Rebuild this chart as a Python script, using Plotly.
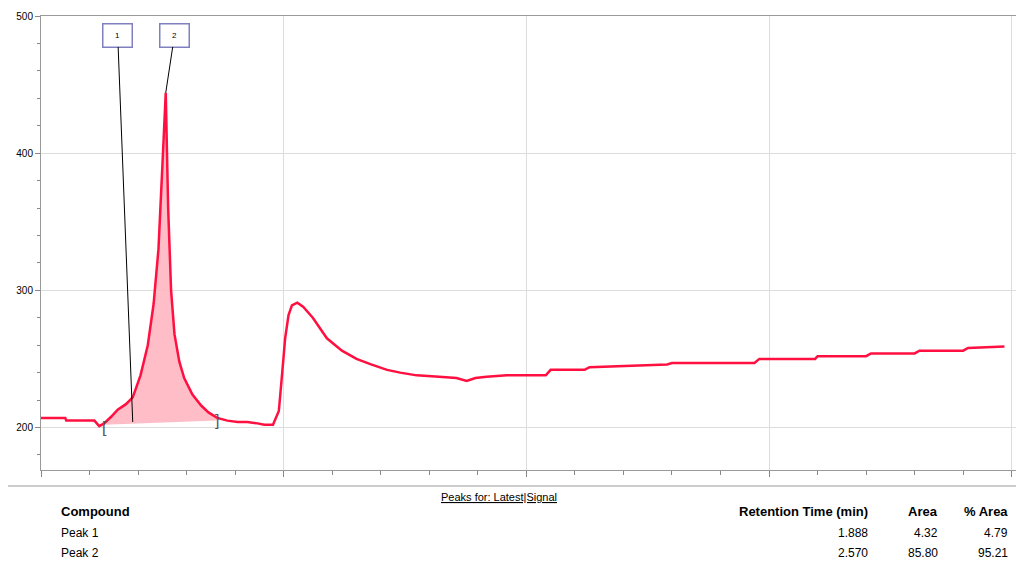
import plotly.graph_objects as go

# chromatogram signal (time in min, signal)
tiempo = [0.0, 0.5, 0.52, 1.1, 1.2, 1.3, 1.45, 1.58, 1.75, 1.89, 2.05, 2.2, 2.32, 2.42, 2.5, 2.57,
          2.62, 2.68, 2.75, 2.85, 2.95, 3.12, 3.3, 3.45, 3.63, 3.84, 4.05, 4.25, 4.46, 4.6, 4.78,
          4.9, 4.97, 5.03, 5.1, 5.17, 5.28, 5.4, 5.6, 5.89, 6.2, 6.5, 6.8, 7.13, 7.4, 7.74, 8.2,
          8.56, 8.77, 8.95, 9.18, 9.6, 10.0, 10.4, 10.5, 11.2, 11.3, 12.05, 12.9, 13.0, 13.7,
          14.7, 14.8, 15.95, 16.0, 17.0, 17.1, 18.0, 18.1, 19.0, 19.1, 19.85]
senal = [207, 207, 205, 205, 201, 203, 208, 213, 217, 222, 238, 260, 290, 330, 390, 444,
         360, 300, 268, 248, 236, 224, 216, 211, 207, 205, 204, 204, 203, 202, 202,
         212, 240, 265, 282, 289, 291, 288, 280, 265, 256, 250, 246, 242, 240, 238, 237,
         236, 234, 236, 237, 238, 238, 238, 242, 242, 244, 245, 246, 247, 247,
         247, 250, 250, 252, 252, 254, 254, 256, 256, 258, 259]

# integrated peak region
pico_t = [1.3, 1.45, 1.58, 1.75, 1.89, 2.05, 2.2, 2.32, 2.42, 2.5, 2.57, 2.62, 2.68, 2.75,
          2.85, 2.95, 3.12, 3.3, 3.45, 3.63]
pico_y = [203, 208, 213, 217, 222, 238, 260, 290, 330, 390, 444, 360, 300, 268,
          248, 236, 224, 216, 211, 207]
base_t = [1.3, 3.63]
base_y = [202, 205]

compuestos = ["Peak 1", "Peak 2"]
ret_time = ["1.888", "2.570"]
area = ["4.32", "85.80"]
pct_area = ["4.79", "95.21"]
etiqueta_t = [1.58, 2.75]
apunta_t = [1.89, 2.57]
apunta_y = [204, 444]

fig = go.Figure()
fig.add_trace(go.Scatter(x=base_t, y=base_y, mode='lines', line=dict(width=0), hoverinfo='skip'))
fig.add_trace(go.Scatter(x=pico_t, y=pico_y, mode='lines', line=dict(width=0), fill='tonexty',
                         fillcolor='rgba(255,182,193,0.9)', hoverinfo='skip'))
fig.add_trace(go.Scatter(x=tiempo, y=senal, mode='lines', line=dict(color='#FF1040', width=2.5)))

# peak labels
for i in range(2):
    fig.add_annotation(x=apunta_t[i], y=apunta_y[i], ax=etiqueta_t[i], ay=486, axref='x', ayref='y',
                       text=str(i + 1), showarrow=True, arrowhead=0, arrowwidth=1, arrowcolor='black',
                       bordercolor='#8080c0', borderwidth=1.5, bgcolor='white', width=26, height=20,
                       font=dict(size=8, color='black'))

fig.add_annotation(x=1.3, y=200, text='[', showarrow=False, font=dict(size=16, color='#555'))
fig.add_annotation(x=3.63, y=205, text=']', showarrow=False, font=dict(size=16, color='#555'))

# table under the chart
def px(p):
    return (p - 33) / 978

def py(p):
    return (462 - p) / 454

fig.add_shape(type='line', xref='paper', yref='paper', x0=px(0), x1=px(1012), y0=py(478), y1=py(478),
              line=dict(color='#999', width=1))
fig.add_annotation(xref='paper', yref='paper', x=px(491), y=py(497), text='<u>Peaks for: Latest|Signal</u>',
                   showarrow=False, font=dict(size=11))
encabezados = [("<b>Compound</b>", 51, 'left'), ("<b>Retention Time (min)</b>", 862, 'right'),
               ("<b>Area</b>", 932, 'right'), ("<b>% Area</b>", 1002, 'right')]
for txt, xx, al in encabezados:
    fig.add_annotation(xref='paper', yref='paper', x=px(xx), y=py(513), text=txt, xanchor=al,
                       showarrow=False, font=dict(size=13))
for i, yy in enumerate([534, 554]):
    fila = [(compuestos[i], 51, 'left'), (ret_time[i], 862, 'right'), (area[i], 932, 'right'),
            (pct_area[i], 1002, 'right')]
    for txt, xx, al in fila:
        fig.add_annotation(xref='paper', yref='paper', x=px(xx), y=py(yy), text=txt, xanchor=al,
                           showarrow=False, font=dict(size=12))

fig.update_xaxes(range=[0, 20.15], tickvals=[0, 5, 10, 15, 20], showticklabels=False, showgrid=True,
                 gridcolor='#dddddd', showline=True, linecolor='#999', mirror=True, ticks='outside',
                 ticklen=6, tickcolor='#888', minor=dict(dtick=1, ticks='outside', ticklen=4, tickcolor='#888'),
                 zeroline=False, automargin=False)
fig.update_yaxes(range=[169, 500], tickvals=[200, 300, 400, 500], showgrid=True, gridcolor='#dddddd',
                 showline=True, linecolor='#999', mirror=True, ticks='outside', ticklen=5, tickcolor='#888',
                 minor=dict(dtick=20, ticks='outside', ticklen=3, tickcolor='#888'),
                 tickfont=dict(size=10), zeroline=False, automargin=False)
fig.update_layout(width=1024, height=573, margin=dict(l=33, r=13, t=8, b=111, autoexpand=False),
                  showlegend=False, plot_bgcolor='white', paper_bgcolor='white',
                  font=dict(family='Liberation Sans', color='black'))

fig.write_html("out.html")
